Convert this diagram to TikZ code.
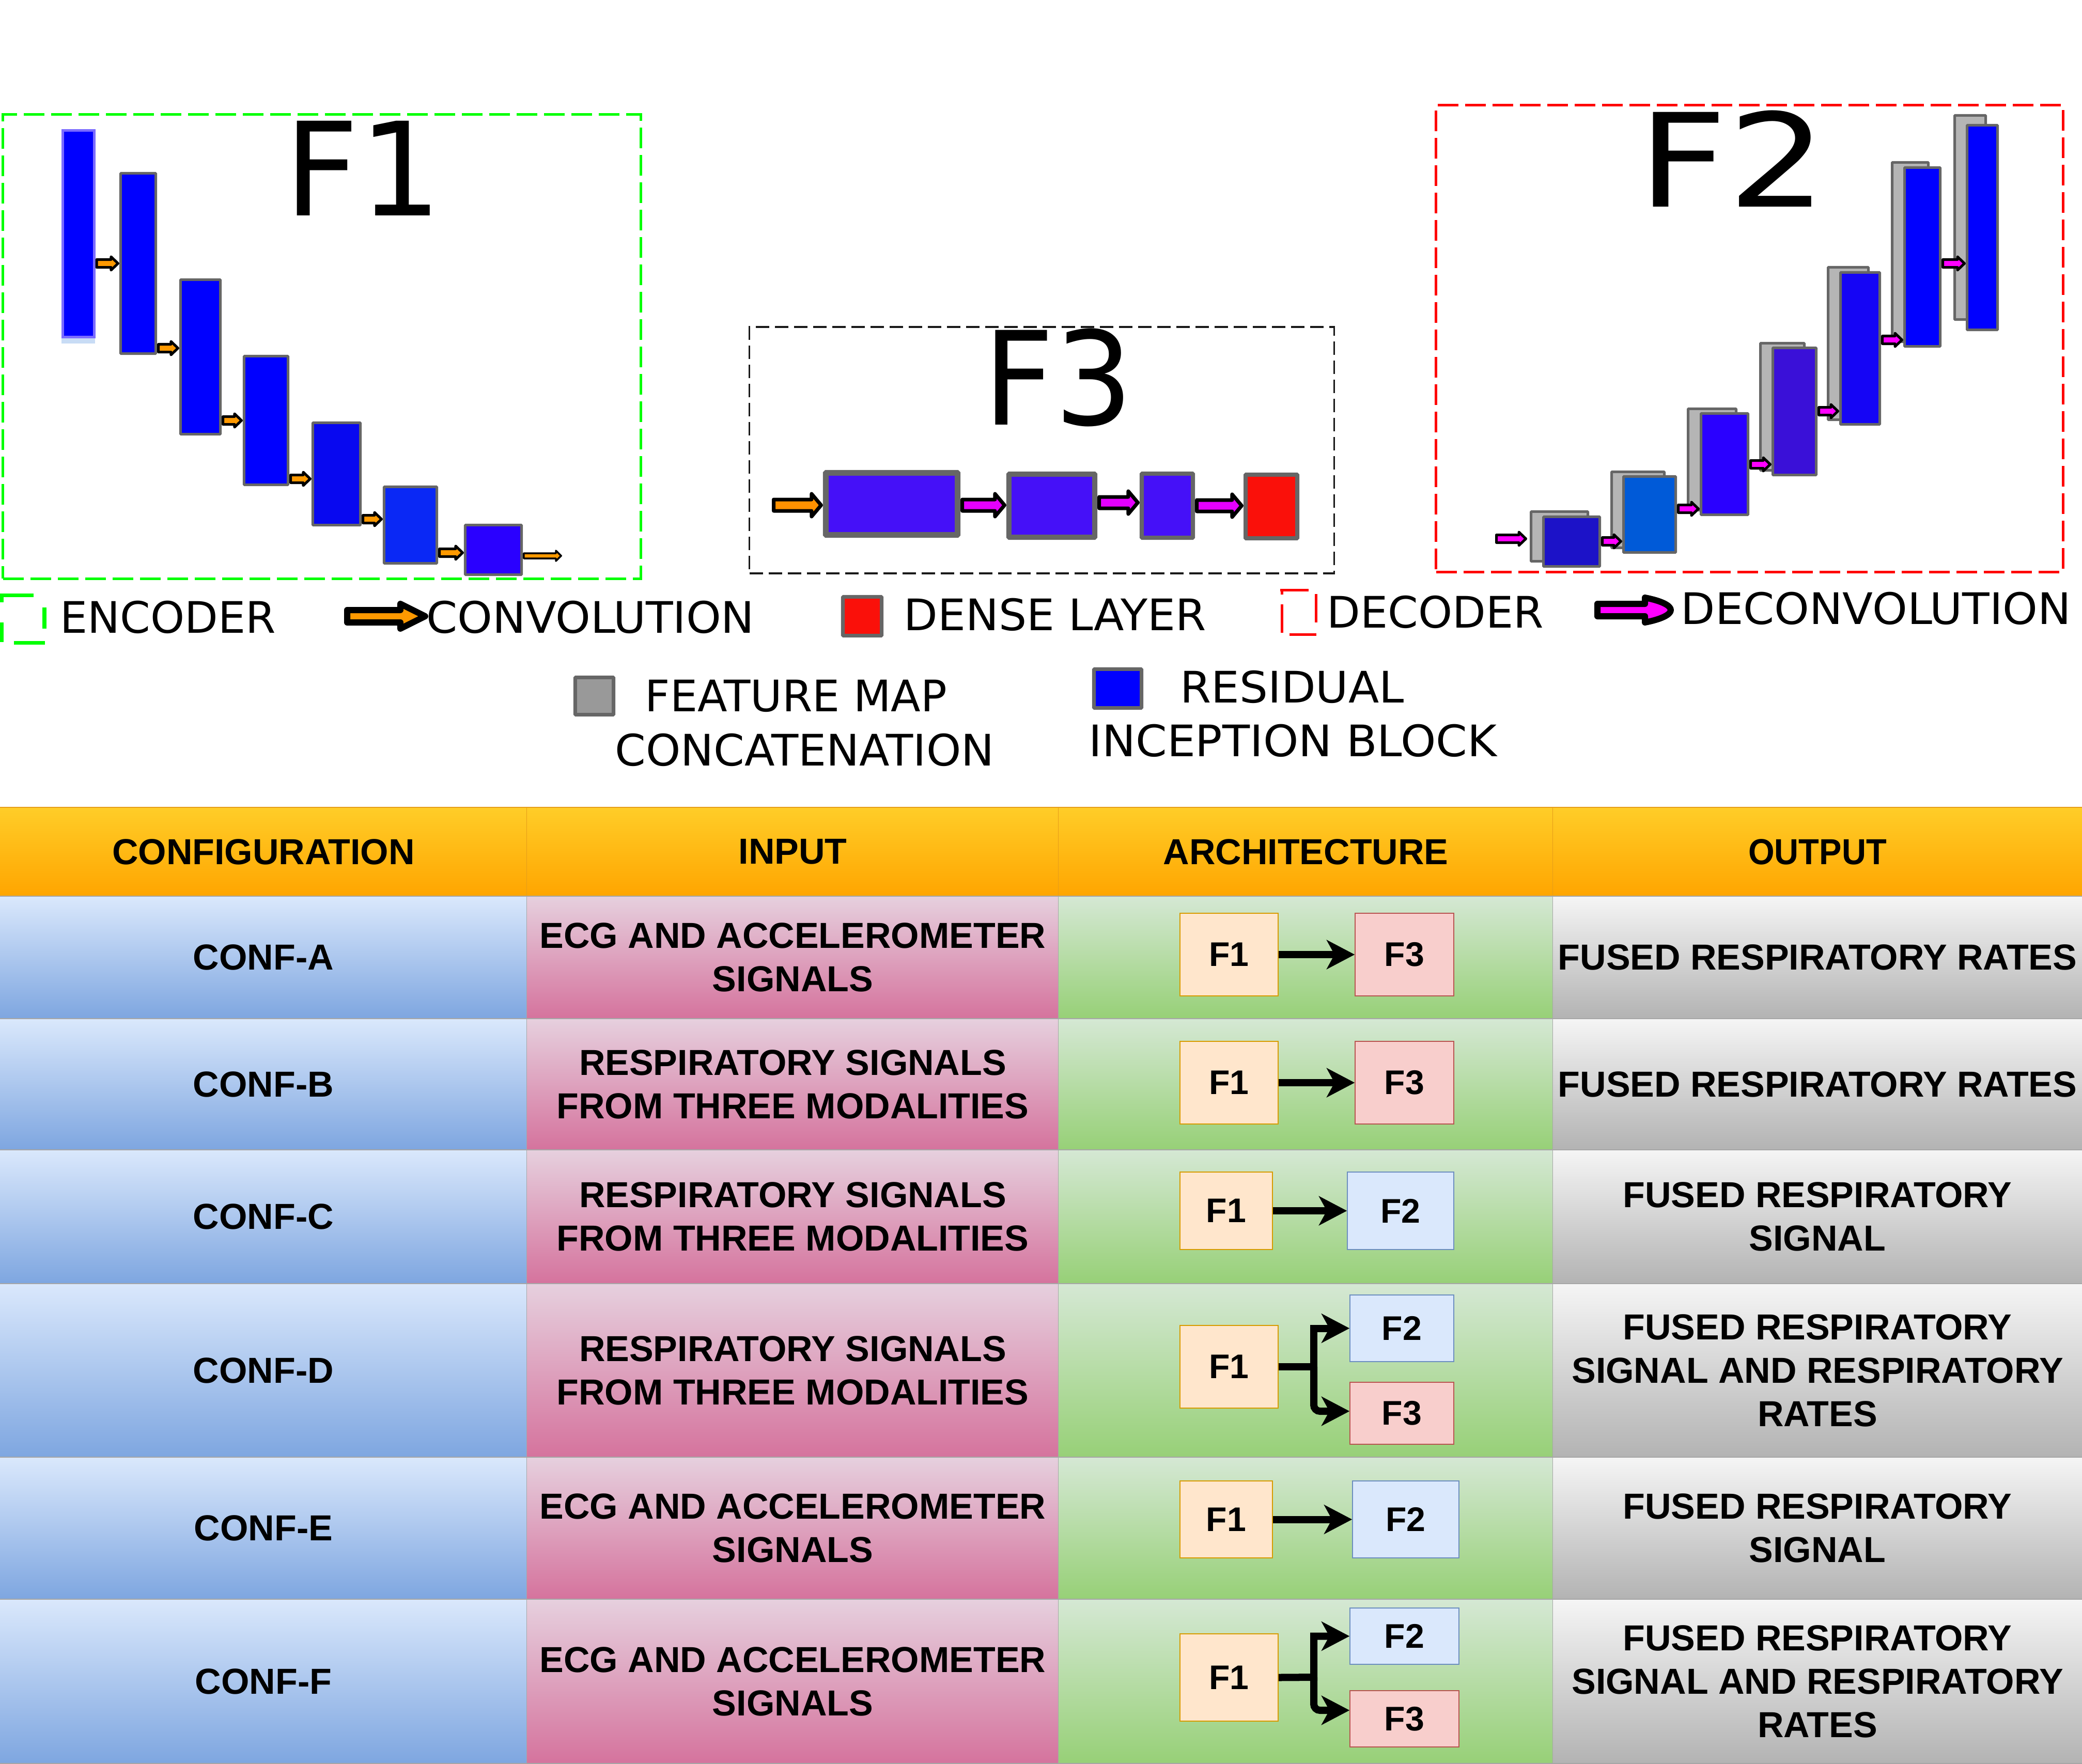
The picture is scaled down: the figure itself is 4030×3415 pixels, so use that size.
\documentclass[tikz,border=0pt]{standalone}
\usepackage{fontspec}
\usepackage{graphicx}
\setmainfont{DejaVu Sans}
\setsansfont{Liberation Sans}
\usetikzlibrary{arrows.meta,calc}
\def\pv{0.28453}
\definecolor{blockgrey}{HTML}{666666}
\definecolor{convo}{HTML}{FF9900}
\definecolor{deconv}{HTML}{FF00FF}
\definecolor{fthree}{HTML}{4510F8}
\definecolor{densered}{HTML}{FA100A}
\definecolor{mapgrey}{HTML}{B5B5B5}
\definecolor{eA}{RGB}{123,108,255}
\definecolor{eS}{RGB}{200,220,245}
\definecolor{eE}{RGB}{8,8,240}
\definecolor{eF}{RGB}{10,40,245}
\definecolor{eG}{RGB}{42,0,255}
\definecolor{dA}{RGB}{28,18,200}
\definecolor{dB}{RGB}{0,90,216}
\definecolor{dC}{RGB}{42,0,255}
\definecolor{dD}{RGB}{58,16,216}
\definecolor{dE}{RGB}{21,5,245}
\definecolor{HDa}{HTML}{FFCD28}\definecolor{HDb}{HTML}{FFA500}
\definecolor{BLa}{HTML}{DAE8FC}\definecolor{BLb}{HTML}{7EA6E0}
\definecolor{PKa}{HTML}{E6D0DE}\definecolor{PKb}{HTML}{D5739D}
\definecolor{GRa}{HTML}{D5E8D4}\definecolor{GRb}{HTML}{97D077}
\definecolor{GYa}{HTML}{F5F5F5}\definecolor{GYb}{HTML}{B3B3B3}
\definecolor{ORf}{HTML}{FFE6CC}\definecolor{ORd}{HTML}{D79B00}
\definecolor{RDf}{HTML}{F8CECC}\definecolor{RDd}{HTML}{B85450}
\definecolor{BBf}{HTML}{DAE8FC}\definecolor{BBd}{HTML}{6C8EBF}
\tikzset{
  blockn/.style={draw=blockgrey,inner sep=0pt,rounded corners=0.3pt},
  cellbase/.style={inner sep=0pt,align=center,font=\sffamily\bfseries\fontsize{19.9}{23.9}\selectfont,line width=1.5*\pv pt},
  hdr/.style={cellbase,top color=HDa,bottom color=HDb,draw=HDb!80!gray},
  blu/.style={cellbase,top color=BLa,bottom color=BLb,draw=gray!70},
  pnk/.style={cellbase,top color=PKa,bottom color=PKb,draw=gray!70},
  grn/.style={cellbase,top color=GRa,bottom color=GRb,draw=gray!70},
  gry/.style={cellbase,top color=GYa,bottom color=GYb,draw=gray!70},
  archbox/.style={inner sep=0pt,font=\sffamily\bfseries\fontsize{18.8}{22}\selectfont,line width=1.5*\pv pt},
  orbox/.style={archbox,fill=ORf,draw=ORd},
  rdbox/.style={archbox,fill=RDf,draw=RDd},
  blbox/.style={archbox,fill=BBf,draw=BBd},
  archarrow/.style={line width=14*\pv pt,-{Stealth[length=54*\pv pt,width=56*\pv pt,inset=15*\pv pt]}},
  legendtext/.style={font=\fontsize{23.9}{28}\selectfont,inner sep=0pt,anchor=base west},
  titletext/.style={font=\fontsize{71.5}{80}\selectfont,inner sep=0pt,anchor=base west},
  dashgreen/.style={draw=green,line width=5.5*\pv pt,dash pattern=on 40*\pv pt off 13*\pv pt},
  dashred/.style={draw=red,line width=5.5*\pv pt,dash pattern=on 40*\pv pt off 13*\pv pt},
  dashblack/.style={draw=black!90,line width=3.5*\pv pt,dash pattern=on 26*\pv pt off 11*\pv pt},
}
% block: [line width px]{name}{x1}{y1}{x2}{y2}{fill}
\newcommand\blk[7][5]{\node[blockn,line width=#1*\pv pt,fill=#7,
   minimum width={(#5-#3-#1)*\pv pt},minimum height={(#6-#4-#1)*\pv pt}]
   (#2) at ({(#3+#5)/2},{(#4+#6)/2}) {};}
% block arrow: {from}{to}{colour}{lw}{shaft half}{head half}{head length}
\newcommand\barrow[7]{\draw[line width=#4*\pv pt,line join=round,fill=#3]
  let \p1=#1,\p2=#2 in
  ({\x1+#4*\pv*0.5pt},{\y1+#5*\pv pt}) -- ({\x2-#7*\pv pt},{\y1+#5*\pv pt})
  -- ({\x2-#7*\pv pt},{\y1+#6*\pv pt}) -- ({\x2-#4*\pv*0.5pt},\y1)
  -- ({\x2-#7*\pv pt},{\y1-#6*\pv pt}) -- ({\x2-#7*\pv pt},{\y1-#5*\pv pt})
  -- ({\x1+#4*\pv*0.5pt},{\y1-#5*\pv pt}) -- cycle;}
\newcommand\sarrow[3]{\barrow{#1}{#2}{#3}{5}{7.5}{13}{16}}
\newcommand\marrow[3]{\barrow{#1}{#2}{#3}{7}{11}{22}{22}}
% table cell: {style}{name}{x1}{y1}{x2}{y2}{text}
\newcommand\cell[7]{\node[#1,minimum width={(#5-#3)*\pv pt},minimum height={(#6-#4)*\pv pt}]
   (#2) at ({(#3+#5)/2},{(#4+#6)/2}) {#7};}
% arch box: {style}{name}{x1}{y1}{x2}{y2}{text}
\newcommand\abox[7]{\node[#1,minimum width={(#5-#3)*\pv pt},minimum height={(#6-#4)*\pv pt}]
   (#2) at ({(#3+#5)/2},{(#4+#6)/2}) {#7};}
\begin{document}
\begin{tikzpicture}[x=0.01cm,y=-0.01cm]
\useasboundingbox (0,0) rectangle (4030,3415);
% ---------- F1
\node[dashgreen,inner sep=0pt,minimum width={1234*\pv pt},minimum height={898*\pv pt}] (f1frame) at (623,671) {};
\node[titletext] (f1title) at (550,417) {F1};
\fill[eS] (119,653) rectangle (184,665);
\node[draw=eA,line width=5*\pv pt,fill=blue,inner sep=0pt,
  minimum width={60*\pv pt},minimum height={400*\pv pt}] (e1) at (152,452.5) {};
\blk{e2}{231}{333}{304}{687}{blue}
\blk{e3}{347}{539}{429}{843}{blue}
\blk{e4}{470}{687}{560}{941}{blue}
\blk{e5}{603}{816}{700}{1019}{eE}
\blk{e6}{741}{940}{848}{1093}{eF}
\blk{e7}{898}{1014}{1012}{1115}{eG}
\coordinate (e7out) at (1088,1076);
\sarrow{(e1.east |- 0,510)}{(e2.west |- 0,510)}{convo}
\sarrow{(e2.east |- 0,674)}{(e3.west |- 0,674)}{convo}
\sarrow{(e3.east |- 0,814)}{(e4.west |- 0,814)}{convo}
\sarrow{(e4.east |- 0,927)}{(e5.west |- 0,927)}{convo}
\sarrow{(e5.east |- 0,1005)}{(e6.west |- 0,1005)}{convo}
\sarrow{(e6.east |- 0,1070)}{(e7.west |- 0,1070)}{convo}
\barrow{(e7.east |- e7out)}{(e7out)}{convo}{3.5}{5}{10}{12}
% ---------- F3
\node[dashblack,inner sep=0pt,minimum width={1131*\pv pt},minimum height={477*\pv pt}] (f3frame) at (2016.5,871.5) {};
\node[titletext,xscale=0.95] (f3title) at (1903,822) {F3};
\coordinate (f3in) at (1494,978);
\blk[11]{t1}{1593}{910}{1859}{1041}{fthree}
\blk[10]{t2}{1948}{913}{2124}{1045}{fthree}
\blk[8]{t3}{2206}{913}{2313}{1045}{fthree}
\blk[8]{t4}{2407}{915}{2515}{1046}{densered}
\marrow{(f3in)}{(t1.west |- f3in)}{convo!95!red}
\marrow{(t1.east |- 0,978)}{(t2.west |- 0,978)}{deconv!90!blue}
\marrow{(t2.east |- 0,973)}{(t3.west |- 0,973)}{deconv!90!blue}
\marrow{(t3.east |- 0,979)}{(t4.west |- 0,979)}{deconv!90!blue}
% ---------- F2
\node[dashred,inner sep=0pt,minimum width={1213*\pv pt},minimum height={903*\pv pt}] (f2frame) at (3386.5,655.5) {};
\node[titletext,xscale=1.2] (f2title) at (3170,400) {F2};
\blk{g1}{2961}{988}{3076}{1089}{mapgrey}
\blk{d1}{2985}{998}{3099}{1099}{dA}
\blk{g2}{3117}{911}{3224}{1063}{mapgrey}
\blk{d2}{3140}{920}{3246}{1072}{dB}
\blk{g3}{3265}{789}{3363}{990}{mapgrey}
\blk{d3}{3290}{798}{3386}{999}{dC}
\blk{g4}{3405}{662}{3495}{913}{mapgrey}
\blk{d4}{3429}{671}{3518}{922}{dD}
\blk{g5}{3536}{515}{3619}{815}{mapgrey}
\blk{d5}{3560}{525}{3641}{824}{dE}
\blk{g6}{3660}{312}{3735}{664}{mapgrey}
\blk{d6}{3684}{322}{3758}{673}{blue}
\blk{g7}{3781}{221}{3846}{621}{mapgrey}
\blk{d7}{3805}{240}{3869}{641}{blue}
\coordinate (f2in) at (2894,1043);
\coordinate (f2inend) at (2956,1043);
\sarrow{(f2in)}{(f2inend)}{deconv}
\sarrow{(d1.east |- 0,1048)}{(d2.west |- 0,1048)}{deconv}
\sarrow{(d2.east |- 0,985)}{(d3.west |- 0,985)}{deconv}
\sarrow{(d3.east |- 0,899)}{(d4.west |- 0,899)}{deconv}
\sarrow{(d4.east |- 0,796)}{(d5.west |- 0,796)}{deconv}
\sarrow{(d5.east |- 0,658)}{(d6.west |- 0,658)}{deconv}
\sarrow{(d6.east |- 0,510)}{(d7.west |- 0,510)}{deconv}
% ---------- legend
\draw[green,line width=7*\pv pt] (0,1152) -- (65,1152) (86,1176) -- (86,1217) (3,1152) -- (3,1166) (3,1205) -- (3,1243) (27,1244) -- (87,1244);
\node[legendtext] (lenc) at (116,1225) {ENCODER};
\coordinate (lca) at (666,1193); \coordinate (lcb) at (829,1193);
\barrow{(lca)}{(lcb)}{convo}{12}{12}{24}{54}
\node[legendtext,xscale=1.025] (lcon) at (825,1225) {CONVOLUTION};
\blk[7]{ldense}{1628}{1152}{1710}{1234}{densered}
\node[legendtext,xscale=1.015] (ldn) at (1749,1220) {DENSE LAYER};
\draw[red,line width=5*\pv pt] (2478,1142) -- (2533,1142) (2481,1142) -- (2481,1151) (2481,1170) -- (2481,1225) (2547,1150) -- (2547,1205) (2496,1228) -- (2548,1228);
\node[legendtext] (ldec) at (2568,1215) {DECODER};
\draw[line width=12*\pv pt,line join=round,fill=deconv] (3092,1169) -- (3184,1169) -- (3184,1157) .. controls (3215,1163) and (3234,1172) .. (3234,1181) .. controls (3234,1190) and (3215,1199) .. (3184,1205) -- (3184,1193) -- (3092,1193) -- cycle;
\node[legendtext,xscale=1.025] (ldcv) at (3253,1208) {DECONVOLUTION};
\blk[7]{lmap}{1110}{1308}{1191}{1387}{gray!80}
\node[legendtext] (lfm) at (1248,1377) {FEATURE MAP};
\node[legendtext,xscale=1.018] (lcc) at (1190,1482) {CONCATENATION};
\blk[7]{lres}{2114}{1292}{2213}{1374}{blue}
\node[legendtext,xscale=1.03] (lr1) at (2284,1360) {RESIDUAL};
\node[legendtext,xscale=1.034] (lr2) at (2107,1464) {INCEPTION BLOCK};
% ---------- table
\cell{hdr}{h1}{0}{1563}{1020}{1735}{CONFIGURATION}
\cell{hdr}{h2}{1020}{1563}{2049}{1735}{INPUT}
\cell{hdr}{h3}{2049}{1563}{3006}{1735}{ARCHITECTURE}
\cell{hdr}{h4}{3006}{1563}{4030}{1735}{\scalebox{0.93}[1]{OUTPUT}}
% row A
\cell{blu}{a1}{0}{1735}{1020}{1972}{CONF-A}
\cell{pnk}{a2}{1020}{1735}{2049}{1972}{ECG AND ACCELEROMETER\\SIGNALS}
\cell{grn}{a3}{2049}{1735}{3006}{1972}{}
\cell{gry}{a4}{3006}{1735}{4030}{1972}{FUSED RESPIRATORY RATES}
% row B
\cell{blu}{b1}{0}{1972}{1020}{2226}{CONF-B}
\cell{pnk}{b2}{1020}{1972}{2049}{2226}{RESPIRATORY SIGNALS\\FROM THREE MODALITIES}
\cell{grn}{b3}{2049}{1972}{3006}{2226}{}
\cell{gry}{b4}{3006}{1972}{4030}{2226}{FUSED RESPIRATORY RATES}
% row C
\cell{blu}{c1}{0}{2226}{1020}{2485}{CONF-C}
\cell{pnk}{c2}{1020}{2226}{2049}{2485}{RESPIRATORY SIGNALS\\FROM THREE MODALITIES}
\cell{grn}{c3}{2049}{2226}{3006}{2485}{}
\cell{gry}{c4}{3006}{2226}{4030}{2485}{FUSED RESPIRATORY\\SIGNAL}
% row D
\cell{blu}{d1c}{0}{2485}{1020}{2821}{CONF-D}
\cell{pnk}{d2c}{1020}{2485}{2049}{2821}{RESPIRATORY SIGNALS\\FROM THREE MODALITIES}
\cell{grn}{d3c}{2049}{2485}{3006}{2821}{}
\cell{gry}{d4c}{3006}{2485}{4030}{2821}{FUSED RESPIRATORY\\SIGNAL AND RESPIRATORY\\RATES}
% row E
\cell{blu}{e1c}{0}{2821}{1020}{3096}{CONF-E}
\cell{pnk}{e2c}{1020}{2821}{2049}{3096}{ECG AND ACCELEROMETER\\SIGNALS}
\cell{grn}{e3c}{2049}{2821}{3006}{3096}{}
\cell{gry}{e4c}{3006}{2821}{4030}{3096}{FUSED RESPIRATORY\\SIGNAL}
% row F
\cell{blu}{f1c}{0}{3096}{1020}{3414}{CONF-F}
\cell{pnk}{f2c}{1020}{3096}{2049}{3414}{ECG AND ACCELEROMETER\\SIGNALS}
\cell{grn}{f3c}{2049}{3096}{3006}{3414}{}
\cell{gry}{f4c}{3006}{3096}{4030}{3414}{FUSED RESPIRATORY\\SIGNAL AND RESPIRATORY\\RATES}
% architecture boxes
\abox{orbox}{xa1}{2284}{1768}{2474}{1928}{F1}
\abox{rdbox}{xa3}{2623}{1768}{2814}{1928}{F3}
\draw[archarrow] (xa1.east) -- (xa3.west);
\abox{orbox}{xb1}{2284}{2016}{2474}{2176}{F1}
\abox{rdbox}{xb3}{2623}{2016}{2814}{2176}{F3}
\draw[archarrow] (xb1.east) -- (xb3.west);
\abox{orbox}{xc1}{2284}{2269}{2463}{2419}{F1}
\abox{blbox}{xc2}{2608}{2269}{2814}{2419}{F2}
\draw[archarrow] (xc1.east) -- (xc2.west);
\abox{orbox}{xd1}{2284}{2566}{2474}{2726}{F1}
\abox{blbox}{xd2}{2613}{2507}{2814}{2636}{F2}
\abox{rdbox}{xd3}{2613}{2676}{2814}{2796}{F3}
\coordinate (xdj) at (2543,2646);
\coordinate (xdt) at (xd3.west |- 0,2732);
\draw[archarrow] (xd1.east) -- (xdj) |- (xd2.west);
\draw[archarrow,rounded corners=12*\pv pt] (xdj) |- (xdt);
\abox{orbox}{xe1}{2284}{2867}{2463}{3016}{F1}
\abox{blbox}{xe2}{2618}{2867}{2824}{3016}{F2}
\draw[archarrow] (xe1.east) -- (xe2.west);
\abox{orbox}{xf1}{2284}{3163}{2474}{3332}{F1}
\abox{blbox}{xf2}{2613}{3113}{2824}{3222}{F2}
\abox{rdbox}{xf3}{2613}{3273}{2824}{3382}{F3}
\coordinate (xfj) at (2543,3247);
\coordinate (xft) at (xf3.west |- 0,3311);
\draw[archarrow] (xf1.east) -- (xfj) |- (xf2.west);
\draw[archarrow,rounded corners=12*\pv pt] (xfj) |- (xft);
\end{tikzpicture}
\end{document}
